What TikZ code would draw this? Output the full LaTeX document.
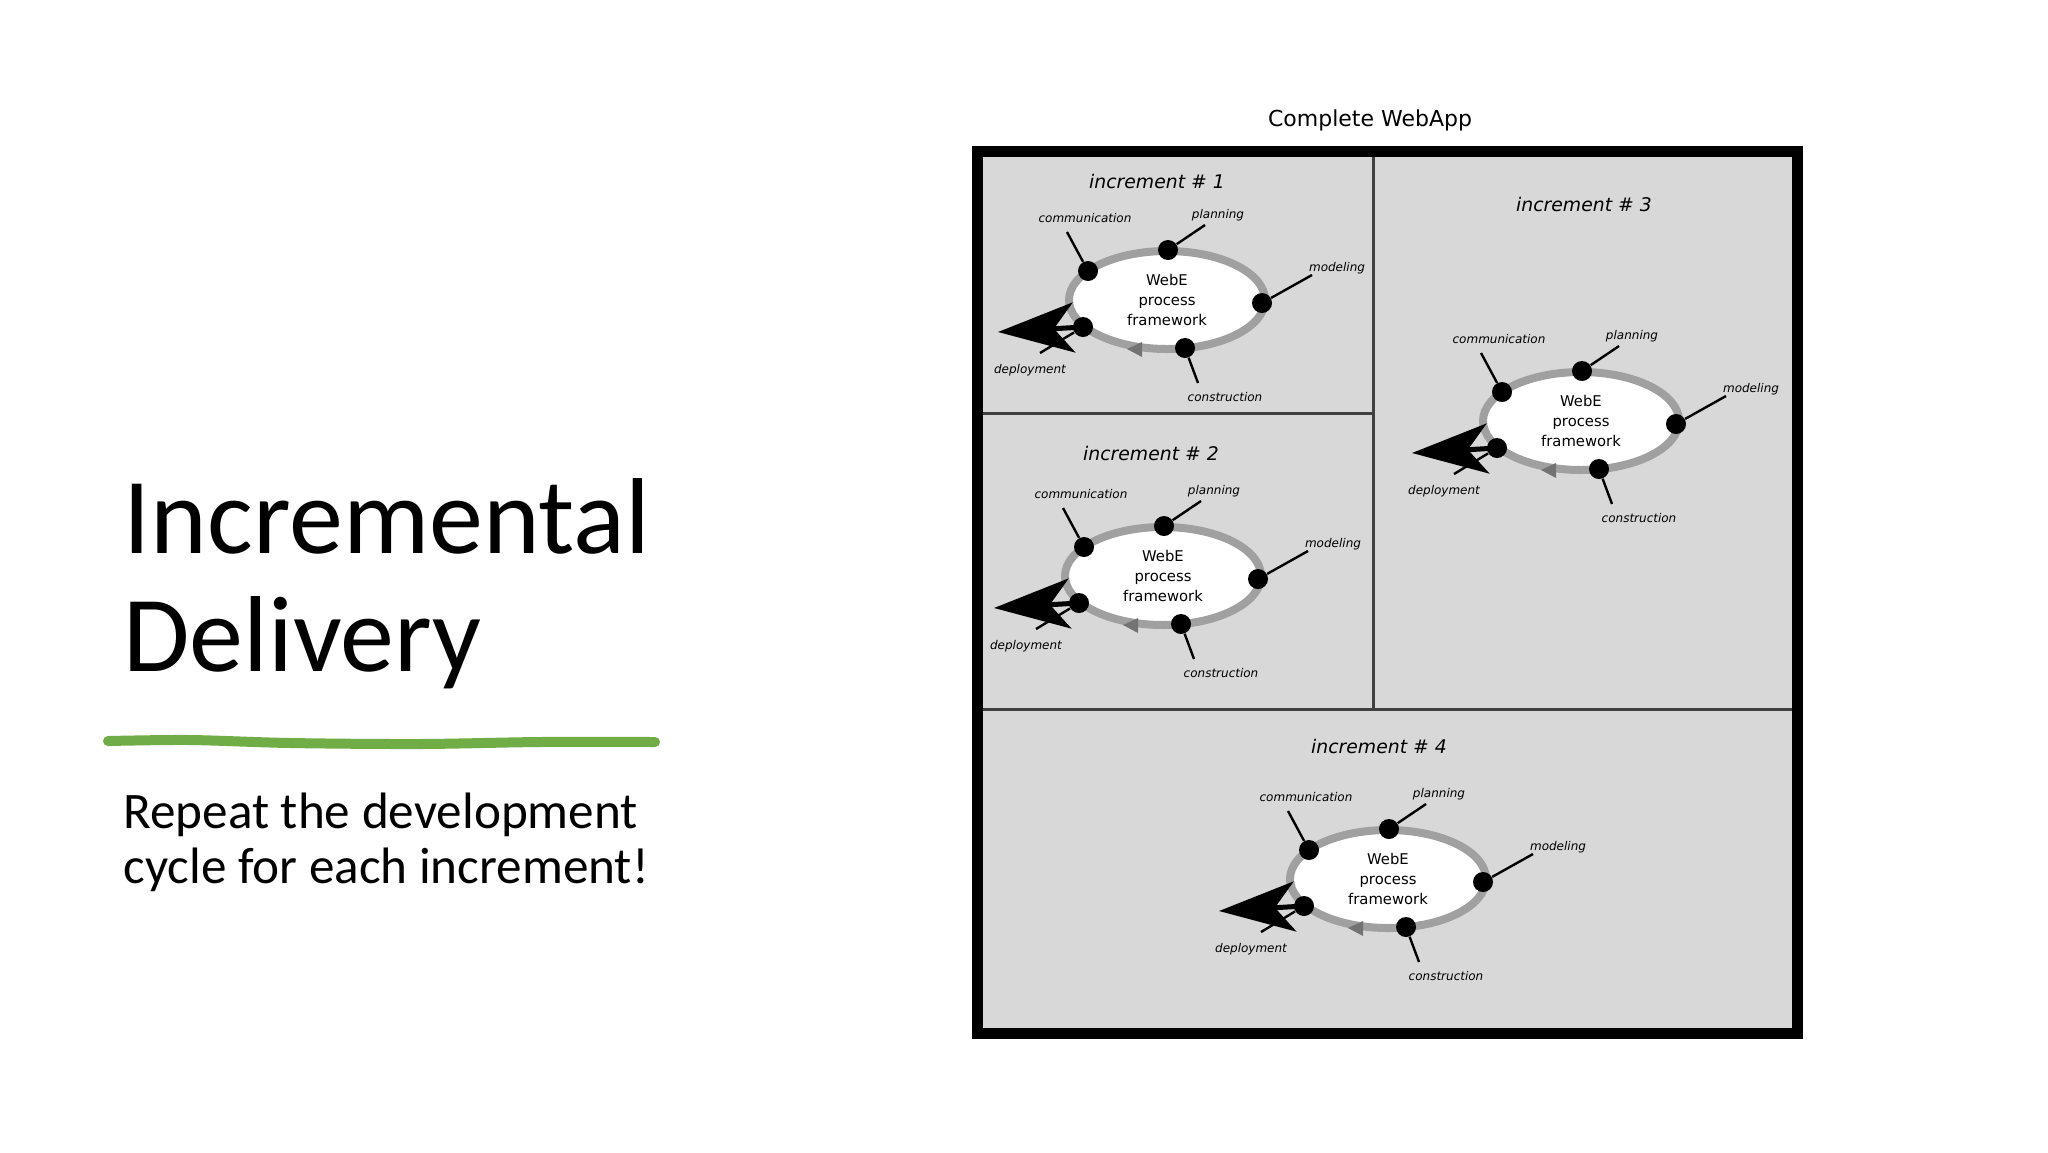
\documentclass[tikz,border=0pt]{standalone}
\usepackage{fontspec}
\setmainfont{Carlito}
\newfontfamily\figfont{DejaVu Sans}
\usetikzlibrary{arrows.meta, shapes.geometric}
\definecolor{slidegreen}{RGB}{112,173,71}
\definecolor{panelgray}{RGB}{216,216,216}
\definecolor{ringgray}{RGB}{160,160,160}
\tikzset{heading/.style={anchor=base west, inner sep=0pt, font=\fontsize{54}{59}\selectfont},
	subline/.style={anchor=base west, inner sep=0pt, font=\fontsize{25.6}{30}\selectfont},
	underline/.style={draw=slidegreen, line width=5pt, line cap=round},
	webapp/.style={inner sep=0pt, font=\figfont\fontsize{11}{13}\selectfont},
	divider/.style={draw=black!75, line width=1.5pt},
	ring/.style={ellipse, draw=ringgray, fill=white, line width=4pt, inner sep=0pt,
		minimum width=98pt, minimum height=49pt, align=center,
		font=\figfont\fontsize{7.4}{10.2}\selectfont},
	phase/.style={circle, fill=black, inner sep=0pt, minimum size=10pt},
	leader/.style={line width=1.2pt},
	phaselabel/.style={inner sep=0pt, font=\figfont\itshape\fontsize{6}{7}\selectfont},
	inctitle/.style={inner sep=0pt, font=\figfont\itshape\fontsize{9.4}{11}\selectfont},
	shipit/.style={line width=2.5pt, -{Stealth[length=38pt, width=25pt, inset=10pt]}},
	flowtip/.style={fill=black!55}}

\begin{document}
\begin{tikzpicture}[x=0.5pt, y=-0.5pt]
	\useasboundingbox (0,0) rectangle (2048,1152);
	\fill[white] (0,0) rectangle (2048,1152);
	
	% left column
	\node[heading] (head1) at (123,553) {Incremental};
	\node[heading] (head2) at (123,671) {Delivery};
	\draw[underline] plot[smooth] coordinates {(108,741) (190,740) (290,743) (420,744) (540,742) (655,742)};
	\node[subline] (sub1) at (123,828) {Repeat the development};
	\node[subline] (sub2) at (123,883) {cycle for each increment!};
	
	% the framed increments
	\node[webapp] (whole) at (1370,120) {Complete WebApp};
	\fill[panelgray] (983,157) rectangle (1792,1028);
	\draw[divider] (1373,157) -- (1373,709) (983,413) -- (1373,413) (983,709) -- (1792,709);
	\draw[line width=5.5pt] (977.5,151.5) rectangle (1797.5,1033.5);
	
	\foreach \n/\cx/\cy/\tx/\ty in {1/1167/300/1157/181, 2/1163/576/1151/453,
		3/1581/421/1584/204, 4/1388/879/1379/746}{
		\node[inctitle] (title\n) at (\tx,\ty) {increment \# \n};
		\begin{scope}[shift={(\cx,\cy)}]
		\node[ring] (frame\n) at (0,0) {WebE\\process\\framework};
		\node[phase] (comm\n) at (-79,-29) {};
		\node[phase] (plan\n) at (1,-50) {};
		\node[phase] (model\n) at (95,3) {};
		\node[phase] (constr\n) at (18,48) {};
		\node[phase] (deploy\n) at (-84,27) {};
		\coordinate (commend\n) at (-100,-68);
		\coordinate (planend\n) at (38,-75);
		\coordinate (modelend\n) at (145,-25);
		\coordinate (constrend\n) at (31,83);
		\coordinate (deployend\n) at (-127,53);
		\coordinate (tip\n) at (-169,32);
		\draw[leader] (comm\n) -- (commend\n);
		\draw[leader] (plan\n) -- (planend\n);
		\draw[leader] (model\n) -- (modelend\n);
		\draw[leader] (constr\n) -- (constrend\n);
		\draw[leader] (deploy\n) -- (deployend\n);
		\node[phaselabel] (commlabel\n) at (-82,-82) {communication};
		\node[phaselabel] (planlabel\n) at (51,-85) {planning};
		\node[phaselabel] (modellabel\n) at (170,-32) {modeling};
		\node[phaselabel] (constrlabel\n) at (58,97) {construction};
		\node[phaselabel] (deploylabel\n) at (-137,70) {deployment};
		\draw[shipit] (deploy\n.center) -- (tip\n);
		\fill[flowtip] (-40,49) -- (-25,42) -- (-25,57) -- cycle;
		\end{scope}
	}
	
\end{tikzpicture}
\end{document}
